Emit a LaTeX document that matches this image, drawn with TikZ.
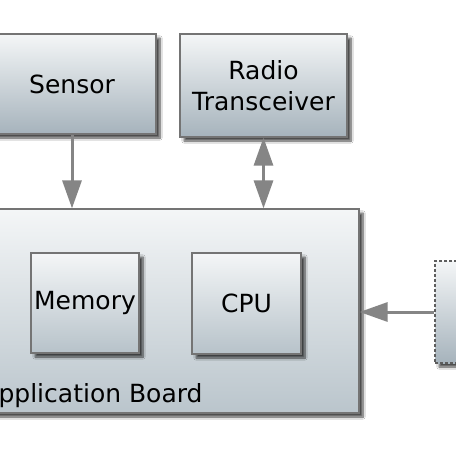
\documentclass[tikz,border=0pt]{standalone}
\usepackage{fontspec}
\setmainfont{DejaVu Sans}
\usepackage{xcolor}
\usetikzlibrary{arrows.meta}
\usetikzlibrary{shadows.blur}

\definecolor{boxtop}{HTML}{F4F6F7}
\definecolor{boxbot}{HTML}{A6B3BC}
\definecolor{boardbot}{HTML}{BAC5CC}
\definecolor{edgegray}{HTML}{747474}
\definecolor{arrowgray}{HTML}{858585}

\tikzset{
	unit/.style={rectangle, draw=edgegray, line width=1.2pt, top color=boxtop, bottom color=boxbot,
		inner sep=0pt, align=center, font=\fontsize{25}{31}\selectfont,
		blur shadow={shadow xshift=4pt, shadow yshift=-4pt, shadow blur steps=8, shadow opacity=70}},
	flow/.style={line width=3pt, arrowgray, -{Triangle[width=19pt,length=28pt]}},
}

\begin{document}
\begin{tikzpicture}[x=1pt,y=-1pt]
			\useasboundingbox[fill=white] (0,0) rectangle (456,456);
			\node[unit, minimum width=168pt, minimum height=100pt] (sensor) at (72,84) {Sensor};
			\node[unit, minimum width=167pt, minimum height=103pt] (radio) at (263.5,85.5) {Radio\\Transceiver};
			\node[unit, bottom color=boardbot, minimum width=399pt, minimum height=204pt] (board) at (159.5,311) {};
			\node[font=\fontsize{25}{31}\selectfont, inner sep=0pt] (boardlbl) at (92,396) {Application Board};
			\node[unit, bottom color=boardbot!85!boxbot, minimum width=108pt, minimum height=100pt] (memory) at (85,303) {Memory};
			\node[unit, bottom color=boardbot!85!boxbot, minimum width=109pt, minimum height=101pt] (cpu) at (246.5,303.5) {CPU};
			\node[unit, draw=edgegray!80!black, dash pattern=on 3pt off 2pt, minimum width=100pt, minimum height=102pt] (ext) at (485,312) {};

			%% arrows
			\draw[flow] (sensor.south) -- (sensor.south |- board.north);
			\draw[flow, {Triangle[width=19pt,length=28pt]}-{Triangle[width=19pt,length=28pt]}] (radio.south) -- (radio.south |- board.north);
			\draw[flow] (ext.west) -- (ext.west -| board.east);
		\end{tikzpicture}
\end{document}
